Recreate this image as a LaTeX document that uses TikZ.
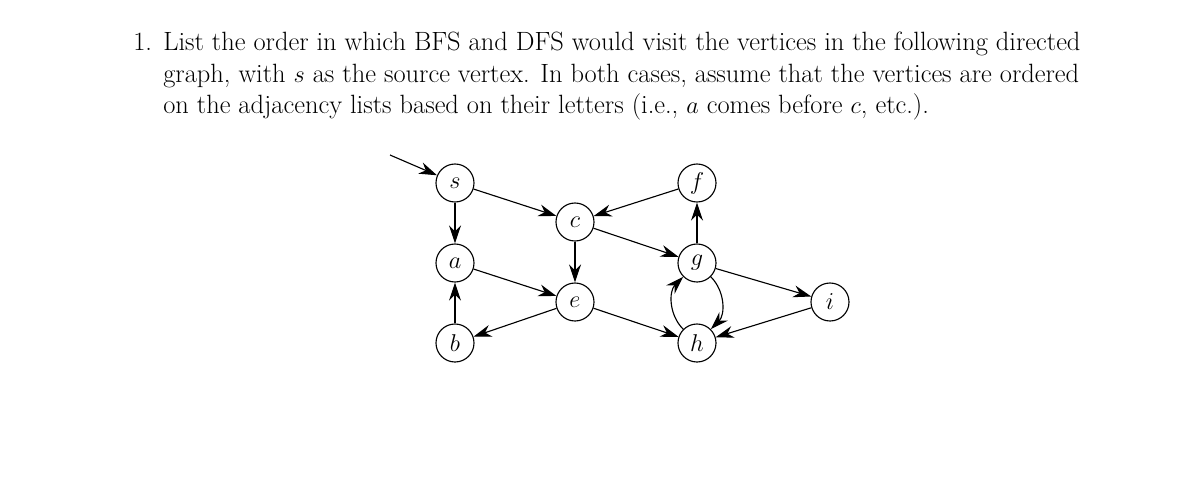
\documentclass[tikz,border=0pt]{standalone}
\usetikzlibrary{arrows.meta}
\begin{document}
\begin{tikzpicture}[x=0.025cm,y=-0.025cm,
  vtx/.style={draw,circle,line width=0.8pt,minimum size=0.95cm,inner sep=0pt,font=\fontsize{18}{20}\selectfont},
  arc/.style={-{Stealth[length=4.5mm,width=3mm]},line width=0.8pt},
  txt/.style={anchor=base west,inner sep=0pt,font=\fontsize{18.8}{21}\selectfont}]
\useasboundingbox (0,0) rectangle (1179,501);
\node[txt] (n1) at (133,50) {1.};
\node[txt] (l1) at (163,50) {List the order in which BFS and DFS would visit the vertices in the following directed};
\node[txt] (l2) at (163,82) {graph, with $s$ as the source vertex. In both cases, assume that the vertices are ordered};
\node[txt] (l3) at (163,113) {on the adjacency lists based on their letters (i.e., $a$ comes before $c$, etc.).};
\node[vtx] (s) at (455,183) {$s$};
\node[vtx] (c) at (575,222) {$c$};
\node[vtx] (f) at (697,183) {$f$};
\node[vtx] (a) at (455,263) {$a$};
\node[vtx] (g) at (697,263) {$g$};
\node[vtx] (e) at (575,302) {$e$};
\node[vtx] (i) at (830,302) {$i$};
\node[vtx] (b) at (455,343) {$b$};
\node[vtx] (h) at (697,343) {$h$};
\coordinate (st) at (390,155);
\draw[arc] (st) -- (s);
\draw[arc] (s) -- (c);
\draw[arc] (s) -- (a);
\draw[arc] (f) -- (c);
\draw[arc] (c) -- (g);
\draw[arc] (c) -- (e);
\draw[arc] (g) -- (f);
\draw[arc] (a) -- (e);
\draw[arc] (b) -- (a);
\draw[arc] (e) -- (b);
\draw[arc] (e) -- (h);
\draw[arc] (g) -- (i);
\draw[arc] (i) -- (h);
\draw[arc] (g.south east) to[bend left=45] (h.north east);
\draw[arc] (h.north west) to[bend left=45] (g.south west);
\end{tikzpicture}
\end{document}
